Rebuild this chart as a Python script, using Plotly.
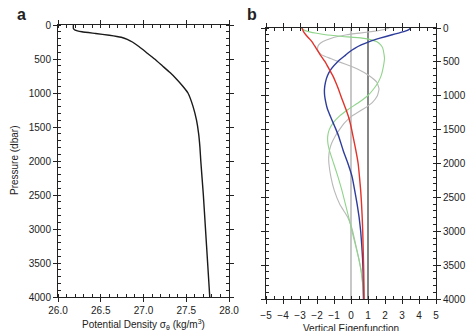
import plotly.graph_objects as go

# Panel a: potential density profile
density_pressure = [0, 50, 75, 100, 125, 150, 180, 210, 250, 320, 400, 500, 600, 700,
                    800, 900, 1000, 1200, 1400, 1600, 1800, 2000, 2500, 3000, 3500, 4000]
sigma_theta = [26.18, 26.18, 26.20, 26.28, 26.44, 26.60, 26.74, 26.81, 26.87, 26.95,
               27.03, 27.13, 27.22, 27.31, 27.39, 27.46, 27.52, 27.58, 27.62, 27.645,
               27.66, 27.67, 27.70, 27.725, 27.75, 27.775]

# Panel b: vertical eigenfunctions of the first four modes
mode1_p = [0, 50, 100, 150, 200, 300, 400, 500, 600, 700, 800, 900, 1000, 1100, 1200,
           1300, 1400, 1500, 1600, 1800, 2000, 2200, 2400, 2600, 2800, 3000, 3200, 3400,
           3600, 3800, 4000]
mode1 = [-2.88, -2.80, -2.66, -2.48, -2.30, -2.05, -1.80, -1.52, -1.30, -1.08, -0.90,
         -0.74, -0.60, -0.45, -0.30, -0.16, -0.05, 0.04, 0.12, 0.28, 0.42, 0.50, 0.57,
         0.62, 0.66, 0.69, 0.71, 0.73, 0.75, 0.76, 0.77]

mode2_p = [0, 25, 50, 75, 100, 150, 200, 250, 300, 350, 400, 500, 600, 700, 800, 900,
           1000, 1100, 1200, 1300, 1400, 1500, 1600, 1800, 2000, 2200, 2400, 2600, 2800,
           3000, 3200, 3400, 3600, 3800, 4000]
mode2 = [3.50, 3.40, 3.15, 2.80, 2.42, 1.70, 1.08, 0.60, 0.22, -0.08, -0.32, -0.80,
         -1.15, -1.38, -1.50, -1.56, -1.55, -1.48, -1.38, -1.22, -1.05, -0.88, -0.72,
         -0.47, -0.18, 0.07, 0.22, 0.36, 0.48, 0.57, 0.63, 0.68, 0.71, 0.73, 0.74]

mode3_p = [0, 25, 50, 75, 100, 125, 150, 175, 200, 250, 300, 400, 450, 500, 600, 700,
           800, 900, 1000, 1100, 1200, 1300, 1400, 1500, 1600, 1700, 1800, 2000, 2200,
           2400, 2600, 2800, 3000, 3200, 3400, 3600, 3800, 4000]
mode3 = [-2.94, -2.80, -2.55, -2.10, -1.50, -0.50, 0.65, 1.20, 1.50, 1.75, 1.87, 1.95,
         1.97, 1.95, 1.88, 1.78, 1.60, 1.33, 0.98, 0.45, -0.15, -0.68, -1.05, -1.28,
         -1.37, -1.36, -1.28, -1.02, -0.76, -0.53, -0.33, -0.13, 0.06, 0.26, 0.45, 0.60,
         0.69, 0.73]

mode4_p = [0, 25, 50, 75, 100, 150, 200, 250, 300, 350, 400, 450, 500, 565, 600, 700,
           800, 900, 1000, 1100, 1200, 1300, 1400, 1500, 1600, 1700, 1800, 1900, 2000,
           2200, 2400, 2600, 2700, 2800, 2900, 3000, 3200, 3400, 3600, 3800, 4000]
mode4 = [2.25, 1.90, 1.30, 0.50, -0.25, -1.15, -1.65, -1.90, -1.97, -1.92, -1.70,
         -1.20, -0.70, 0.00, 0.35, 1.05, 1.52, 1.65, 1.55, 1.25, 0.70, 0.05, -0.38,
         -0.68, -0.94, -1.14, -1.26, -1.31, -1.30, -1.18, -0.98, -0.66, -0.42, -0.18,
         -0.02, 0.10, 0.28, 0.46, 0.61, 0.70, 0.73]

ref_lines = [0, 1]
ref_colors = ["#9a9a9a", "#222222"]

W, H = 474, 331
px = lambda v: v / W
py = lambda v: 1 - v / H

font = "Liberation Sans, Arial, Helvetica, sans-serif"
ink = "#222222"

fig = go.Figure()

fig.add_trace(go.Scatter(x=sigma_theta, y=density_pressure, mode="lines",
                         line=dict(color="#1a1a1a", width=1.4, shape="spline", smoothing=0.4),
                         xaxis="x", yaxis="y", showlegend=False))

for p, v, c, w in [(mode4_p, mode4, "#b8b8b8", 1.1),
                   (mode3_p, mode3, "#8fd48a", 1.1),
                   (mode2_p, mode2, "#2e3d9c", 1.4),
                   (mode1_p, mode1, "#e2332b", 1.4)]:
    fig.add_trace(go.Scatter(x=v, y=p, mode="lines",
                             line=dict(color=c, width=w, shape="spline", smoothing=0.4),
                             xaxis="x2", yaxis="y2", showlegend=False))

for xv, col in zip(ref_lines, ref_colors):
    fig.add_shape(type="line", xref="x2", yref="y2 domain", x0=xv, x1=xv, y0=0, y1=1,
                  line=dict(color=col, width=1.1), layer="below")

common = dict(showline=True, linecolor=ink, linewidth=1, mirror="ticks",
              ticks="outside", ticklen=4, tickcolor=ink, tickwidth=1,
              showgrid=False, zeroline=False, automargin=False,
              tickfont=dict(family=font, size=10, color=ink))

fig.update_layout(
    width=W, height=H, margin=dict(l=0, r=0, t=0, b=0, autoexpand=False),
    paper_bgcolor="white", plot_bgcolor="white",
    xaxis=dict(domain=[px(58), px(229)], range=[26.0, 28.0], dtick=0.5, tick0=26,
               tickformat=".1f", anchor="y",
               minor=dict(dtick=0.1, ticks="inside", ticklen=3, tickcolor=ink), **common),
    yaxis=dict(domain=[py(297), py(25)], range=[4000, 0], dtick=500, anchor="x",
               minor=dict(dtick=100, ticks="inside", ticklen=3, tickcolor=ink), **common),
    xaxis2=dict(domain=[px(266), px(436)], range=[-5, 5], dtick=1, anchor="y2",
                ticklabelstandoff=3,
                minor=dict(dtick=0.5, ticks="inside", ticklen=3, tickcolor=ink), **common),
    yaxis2=dict(domain=[py(299), py(28)], range=[4000, 0], dtick=500, anchor="x2",
                side="right",
                minor=dict(dtick=100, ticks="inside", ticklen=3, tickcolor=ink), **common),
)

ann = [
    dict(text="<b>a</b>", x=px(21), y=py(15), size=16),
    dict(text="<b>b</b>", x=px(252), y=py(15), size=16),
    dict(text="Potential Density σ<sub>θ</sub> (kg/m<sup>3</sup>)", x=px(143), y=py(324), size=10),
    dict(text="Vertical Eigenfunction", x=px(351), y=py(328), size=10),
]
for a in ann:
    fig.add_annotation(text=a["text"], x=a["x"], y=a["y"], xref="paper", yref="paper",
                       showarrow=False, xanchor="center", yanchor="middle",
                       font=dict(family=font, size=a["size"], color=ink))
fig.add_annotation(text="Pressure (dbar)", x=px(14), y=py(161), xref="paper", yref="paper",
                   showarrow=False, textangle=-90, xanchor="center", yanchor="middle",
                   font=dict(family=font, size=10, color=ink))

fig.write_html("out.html")
